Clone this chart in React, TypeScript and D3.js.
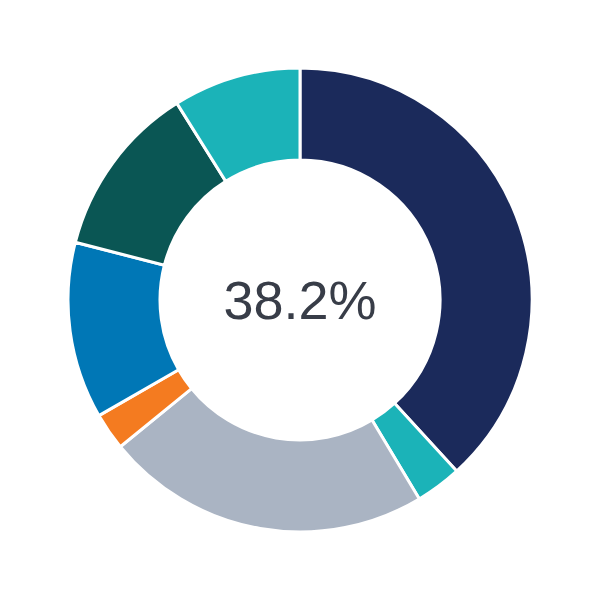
import React, { useEffect, useRef } from "react";
import * as d3 from "d3";

const labels = ["A", "B", "C", "D", "E", "F", "G"];
const values = [38.2, 3.2, 22.7, 2.6, 12.3, 12.1, 8.9];
const colors = ["#1b2a5b", "#1bb3b8", "#aab4c3", "#f47b20", "#0077b6", "#0a5654", "#1bb3b8"];
const centerLabel = "38.2%";

const App: React.FC = () => {
  const svgRef = useRef<SVGSVGElement | null>(null);

  useEffect(() => {
    if (!svgRef.current) return;
    const width = 600;
    const height = 600;
    const outer = 232;
    const inner = 140;

    const svg = d3.select(svgRef.current);
    svg.selectAll("*").remove();

    const g = svg
      .append("g")
      .attr("transform", `translate(${width / 2}, ${height / 2})`);

    const pie = d3
      .pie<number>()
      .sort(null)
      .value((d) => d);

    const arc = d3
      .arc<d3.PieArcDatum<number>>()
      .innerRadius(inner)
      .outerRadius(outer);

    g.selectAll("path")
      .data(pie(values))
      .enter()
      .append("path")
      .attr("d", arc)
      .attr("fill", (d, i) => colors[i])
      .attr("stroke", "#fff")
      .attr("stroke-width", 3)
      .append("title")
      .text((d, i) => labels[i]);

    g.append("text")
      .attr("text-anchor", "middle")
      .attr("dy", "0.35em")
      .attr("font-family", "Liberation Sans, Arial, sans-serif")
      .attr("font-size", 54)
      .attr("fill", "#383d48")
      .text(centerLabel);
  }, []);

  return (
    <div style={{ position: "absolute", left: 0, top: 0 }}>
      <svg ref={svgRef} width={600} height={600} />
    </div>
  );
};

export default App;
